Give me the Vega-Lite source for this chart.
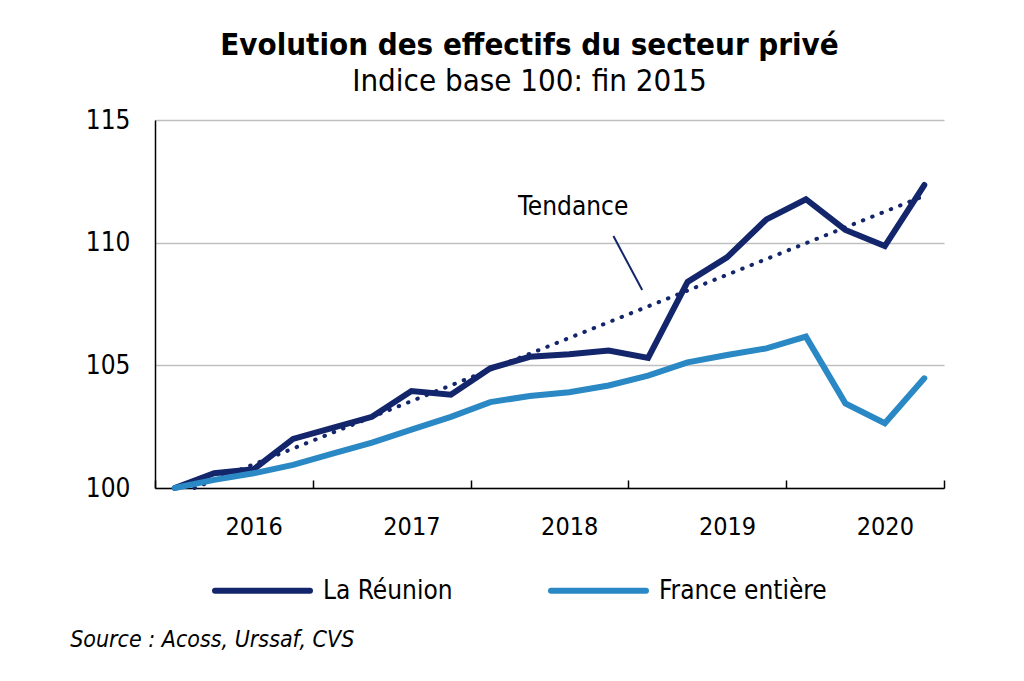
{
  "$schema": "https://vega.github.io/schema/vega-lite/v6.json",
  "width": 789,
  "height": 368,
  "autosize": {"type": "none"},
  "padding": {"left": 155, "top": 120, "right": 80, "bottom": 193},
  "background": "white",
  "config": {"font": "DejaVu Sans Condensed", "view": {"stroke": null}},
  "title": {
    "text": "Evolution des effectifs du secteur privé",
    "subtitle": "Indice base 100: fin 2015",
    "font": "DejaVu Sans Condensed",
    "subtitleFont": "DejaVu Sans Condensed",
    "fontSize": 31,
    "fontWeight": "bold",
    "subtitleFontSize": 31,
    "color": "black",
    "subtitleColor": "black",
    "anchor": "middle",
    "dx": -20,
    "offset": 9,
    "subtitlePadding": 5
  },
  "datasets": {
    "series": [
      {"t": 0, "serie": "La Réunion", "indice": 100.0},
      {"t": 1, "serie": "La Réunion", "indice": 100.6},
      {"t": 2, "serie": "La Réunion", "indice": 100.76},
      {"t": 3, "serie": "La Réunion", "indice": 102.0},
      {"t": 4, "serie": "La Réunion", "indice": 102.45},
      {"t": 5, "serie": "La Réunion", "indice": 102.9},
      {"t": 6, "serie": "La Réunion", "indice": 103.95},
      {"t": 7, "serie": "La Réunion", "indice": 103.8},
      {"t": 8, "serie": "La Réunion", "indice": 104.88},
      {"t": 9, "serie": "La Réunion", "indice": 105.35},
      {"t": 10, "serie": "La Réunion", "indice": 105.45},
      {"t": 11, "serie": "La Réunion", "indice": 105.6},
      {"t": 12, "serie": "La Réunion", "indice": 105.3},
      {"t": 13, "serie": "La Réunion", "indice": 108.4},
      {"t": 14, "serie": "La Réunion", "indice": 109.4},
      {"t": 15, "serie": "La Réunion", "indice": 110.95},
      {"t": 16, "serie": "La Réunion", "indice": 111.77},
      {"t": 17, "serie": "La Réunion", "indice": 110.52},
      {"t": 18, "serie": "La Réunion", "indice": 109.86},
      {"t": 19, "serie": "La Réunion", "indice": 112.35},
      {"t": 0, "serie": "France entière", "indice": 100.0},
      {"t": 1, "serie": "France entière", "indice": 100.33},
      {"t": 2, "serie": "France entière", "indice": 100.6},
      {"t": 3, "serie": "France entière", "indice": 100.94},
      {"t": 4, "serie": "France entière", "indice": 101.4},
      {"t": 5, "serie": "France entière", "indice": 101.85},
      {"t": 6, "serie": "France entière", "indice": 102.38},
      {"t": 7, "serie": "France entière", "indice": 102.9},
      {"t": 8, "serie": "France entière", "indice": 103.5},
      {"t": 9, "serie": "France entière", "indice": 103.75},
      {"t": 10, "serie": "France entière", "indice": 103.9},
      {"t": 11, "serie": "France entière", "indice": 104.18},
      {"t": 12, "serie": "France entière", "indice": 104.58},
      {"t": 13, "serie": "France entière", "indice": 105.12},
      {"t": 14, "serie": "France entière", "indice": 105.42},
      {"t": 15, "serie": "France entière", "indice": 105.69},
      {"t": 16, "serie": "France entière", "indice": 106.17},
      {"t": 17, "serie": "France entière", "indice": 103.45},
      {"t": 18, "serie": "France entière", "indice": 102.64},
      {"t": 19, "serie": "France entière", "indice": 104.47}
    ],
    "tendance": [
      {"t": 0.5, "indice": 100.0},
      {"t": 19, "indice": 111.91}
    ],
    "notes": [
      {"t": 10.1, "indice": 111.45, "texte": "Tendance"}
    ],
    "fleche": [
      {"t": 11.12, "indice": 110.27, "t2": 11.85, "indice2": 108.07}
    ],
    "source": [
      {"t": -2.65, "indice": 93.8, "texte": "Source : Acoss, Urssaf, CVS"}
    ]
  },
  "encoding": {
    "x": {
      "field": "t",
      "type": "quantitative",
      "scale": {"domain": [-0.5, 19.5], "nice": false, "zero": false},
      "axis": {
        "title": null,
        "values": [-0.5, 2, 3.5, 6, 7.5, 10, 11.5, 14, 15.5, 18, 19.5],
        "labelExpr": "datum.value % 4 == 2 ? '' + (2016 + (datum.value - 2) / 4) : ''",
        "labelFlush": false,
        "labelOverlap": false,
        "labelFontSize": 25,
        "labelColor": "black",
        "labelPadding": 34,
        "tickSize": -8,
        "tickColor": "black",
        "tickWidth": 1.5,
        "tickOpacity": {"condition": {"test": "datum.value % 4 == 2", "value": 0}, "value": 1},
        "domainColor": "black",
        "domainWidth": 1.5,
        "grid": false
      }
    },
    "y": {
      "field": "indice",
      "type": "quantitative",
      "scale": {"domain": [100, 115], "nice": false, "zero": false},
      "axis": {
        "title": null,
        "values": [100, 105, 110, 115],
        "ticks": false,
        "labelPadding": 25,
        "labelFontSize": 26,
        "labelColor": "black",
        "domainColor": "black",
        "domainWidth": 1.5,
        "grid": true,
        "gridColor": "#c0c0c0",
        "gridWidth": 1.5
      }
    }
  },
  "layer": [
    {
      "data": {"name": "tendance"},
      "mark": {"type": "line", "color": "#13256b", "strokeWidth": 4, "strokeDash": [0.5, 9.5], "strokeCap": "round"}
    },
    {
      "data": {"name": "series"},
      "transform": [{"filter": "datum.serie == 'La Réunion'"}],
      "mark": {"type": "line", "strokeWidth": 6, "strokeCap": "round"},
      "encoding": {
        "color": {
          "field": "serie",
          "type": "nominal",
          "scale": {"domain": ["La Réunion", "France entière"], "range": ["#13256b", "#2a88c4"]},
          "legend": {
            "title": null,
            "orient": "none",
            "legendX": 57,
            "legendY": 420,
            "direction": "horizontal",
            "symbolType": "M-1,0H1",
            "symbolSize": 9025,
            "symbolStrokeWidth": 6,
            "labelFontSize": 26,
            "labelOffset": 10,
            "labelColor": "black",
            "labelLimit": 400,
            "columnPadding": 86,
            "padding": 0,
            "encode": {"symbols": {"update": {"strokeCap": {"value": "round"}}}}
          }
        }
      }
    },
    {
      "data": {"name": "series"},
      "transform": [{"filter": "datum.serie == 'France entière'"}],
      "mark": {"type": "line", "strokeWidth": 6, "strokeCap": "round"},
      "encoding": {
        "color": {"field": "serie", "type": "nominal"}
      }
    },
    {
      "data": {"name": "fleche"},
      "mark": {"type": "rule", "color": "#13256b", "strokeWidth": 2},
      "encoding": {
        "x2": {"field": "t2"},
        "y2": {"field": "indice2"}
      }
    },
    {
      "data": {"name": "notes"},
      "mark": {"type": "text", "fontSize": 26, "align": "center", "baseline": "middle", "color": "black"},
      "encoding": {"text": {"field": "texte"}}
    },
    {
      "data": {"name": "source"},
      "mark": {"type": "text", "fontSize": 23, "fontStyle": "italic", "align": "left", "baseline": "middle", "color": "black"},
      "encoding": {"text": {"field": "texte"}}
    }
  ]
}
